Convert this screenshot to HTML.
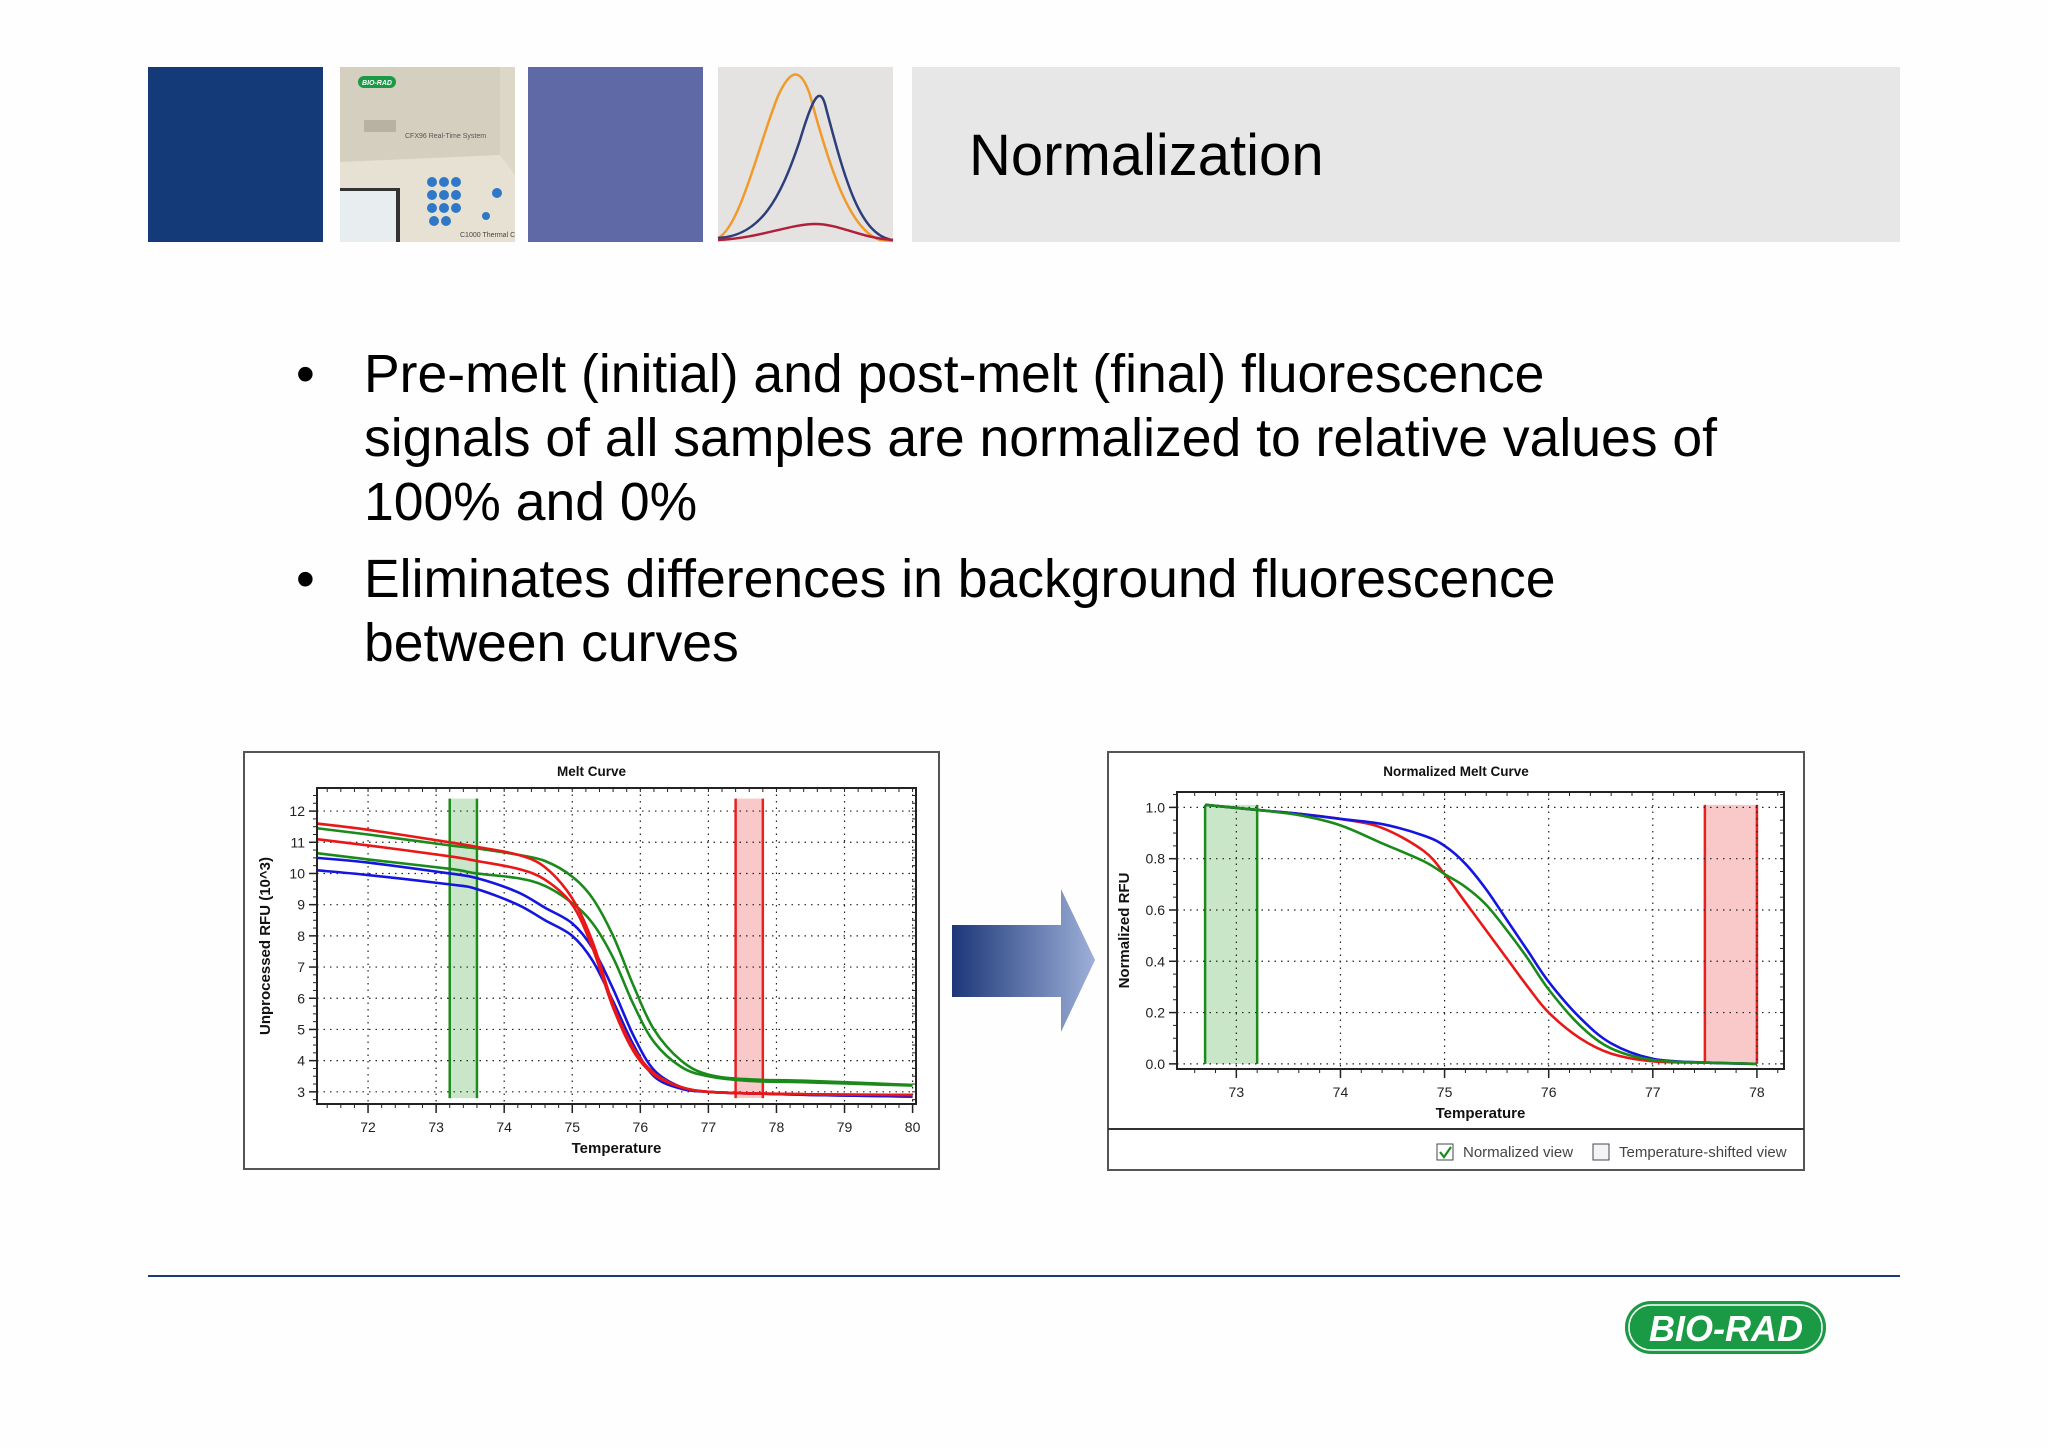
<!DOCTYPE html>
<html><head><meta charset="utf-8"><style>
body{margin:0;background:#fff;}
svg{display:block;font-family:"Liberation Sans",sans-serif;}
</style></head><body>
<svg id="s" width="2048" height="1448" viewBox="0 0 2048 1448">
<rect width="2048" height="1448" fill="#fefefe"/>
<g>
<rect x="148" y="67" width="175" height="175" fill="#143a78"/>
<g>
<rect x="340" y="67" width="175" height="175" fill="#dcd7c6"/>
<rect x="340" y="67" width="160" height="95" fill="#d4cfbe"/>
<polygon points="340,162 500,155 515,175 515,242 340,242" fill="#e6e1d2"/>
<rect x="358" y="76" width="38" height="12" rx="6" fill="#1b9a45"/>
<text x="377" y="85" font-size="7" fill="#fff" text-anchor="middle" font-weight="bold" font-style="italic">BIO-RAD</text>
<rect x="364" y="120" width="32" height="12" fill="#b8b2a2"/>
<text x="405" y="138" font-size="7" fill="#555">CFX96 Real-Time System</text>
<rect x="340" y="188" width="60" height="54" fill="#333"/>
<rect x="340" y="191" width="56" height="51" fill="#e8eef0"/>
<g fill="#2f78c8"><circle cx="432" cy="182" r="5"/><circle cx="444" cy="182" r="5"/><circle cx="456" cy="182" r="5"/><circle cx="432" cy="195" r="5"/><circle cx="444" cy="195" r="5"/><circle cx="456" cy="195" r="5"/><circle cx="432" cy="208" r="5"/><circle cx="444" cy="208" r="5"/><circle cx="456" cy="208" r="5"/><circle cx="434" cy="221" r="5"/><circle cx="446" cy="221" r="5"/><circle cx="497" cy="193" r="5"/><circle cx="486" cy="216" r="4"/></g>
<text x="460" y="237" font-size="7" fill="#444">C1000 Thermal C</text>
</g>
<rect x="528" y="67" width="175" height="175" fill="#5f69a6"/>
<g>
<rect x="718" y="67" width="175" height="175" fill="#e4e3e2"/>
<path d="M718,238 C740,228 760,140 778,96 C790,70 800,65 810,95 C830,170 850,230 880,240 L893,241" fill="none" stroke="#f09a2a" stroke-width="2.5"/>
<path d="M718,238 C760,236 780,200 800,140 C812,100 820,82 826,108 C845,180 860,236 893,240" fill="none" stroke="#2d3f7a" stroke-width="2.5"/>
<path d="M718,240 C760,238 790,224 815,224 C840,224 860,238 893,240" fill="none" stroke="#b0203a" stroke-width="2.5"/>
</g>
<rect x="912" y="67" width="988" height="175" fill="#e8e7e7"/>
<text x="969" y="175" font-size="58" fill="#000">Normalization</text>
</g>
<g font-size="53.5" fill="#000">
<text x="296" y="392">•</text>
<text x="364" y="392">Pre-melt (initial) and post-melt (final) fluorescence</text>
<text x="364" y="456">signals of all samples are normalized to relative values of</text>
<text x="364" y="520">100% and 0%</text>
<text x="296" y="597">•</text>
<text x="364" y="597">Eliminates differences in background fluorescence</text>
<text x="364" y="661">between curves</text>
</g>
<defs><linearGradient id="ag" x1="0" x2="1" y1="0" y2="0"><stop offset="0" stop-color="#1c3678"/><stop offset="1" stop-color="#9eb0d8"/></linearGradient></defs>
<polygon points="952,925 1061,925 1061,889 1095,960 1061,1032 1061,997 952,997" fill="url(#ag)"/>
<g id="c1"></g>
<g id="c2"></g>
<line x1="148" y1="1276" x2="1900" y2="1276" stroke="#1c3a7a" stroke-width="2"/>
<g>
<rect x="1625" y="1301" width="201" height="53" rx="26" fill="#1a9a44"/>
<rect x="1629" y="1305" width="193" height="45" rx="22" fill="none" stroke="#fff" stroke-width="1.5"/>
<text x="1726" y="1341" font-size="36" font-weight="bold" font-style="italic" fill="#fff" text-anchor="middle">BIO-RAD</text>
</g>
</svg>
<script>
// ---- Melt curve data ----
const meltTemps=[71.25,72,73.2,73.6,74.2,74.6,75,75.3,75.6,75.9,76.2,76.6,77,77.6,78.5,80];
const meltRed1=[11.6,11.4,11.0,10.85,10.6,10.2,9.2,7.8,5.8,4.4,3.6,3.15,3.0,2.95,2.92,2.9];
const meltRed2=[11.1,10.9,10.55,10.4,10.15,9.8,9.0,7.6,5.7,4.3,3.55,3.15,3.0,2.95,2.92,2.9];
const meltGreen1=[11.45,11.25,10.9,10.8,10.6,10.4,9.9,9.2,8.0,6.4,5.0,4.0,3.55,3.4,3.35,3.22];
const meltGreen2=[10.65,10.45,10.15,10.0,9.85,9.6,9.05,8.4,7.3,5.8,4.6,3.8,3.5,3.35,3.3,3.2];
const meltBlue1=[10.5,10.35,10.0,9.85,9.4,8.9,8.4,7.6,6.3,4.8,3.7,3.15,3.0,2.95,2.9,2.85];
const meltBlue2=[10.1,9.95,9.65,9.5,9.0,8.5,8.0,7.2,5.9,4.5,3.5,3.1,3.0,2.95,2.9,2.85];
const meltXTicks=[72,73,74,75,76,77,78,79,80];
const meltYTicks=[3,4,5,6,7,8,9,10,11,12];
const meltBands=[[73.2,73.6],[77.4,77.8]];
// ---- Normalized data ----
const normTemps=[72.7,73.2,73.6,74,74.4,74.8,75,75.2,75.4,75.6,75.8,76,76.3,76.6,77,77.5,78];
const normRed=[1.01,0.99,0.975,0.955,0.92,0.83,0.74,0.63,0.52,0.41,0.30,0.2,0.1,0.04,0.01,0.005,0];
const normBlue=[1.01,0.99,0.975,0.955,0.935,0.89,0.85,0.78,0.68,0.56,0.44,0.32,0.18,0.08,0.02,0.005,0];
const normGreen=[1.01,0.99,0.97,0.93,0.86,0.79,0.74,0.69,0.62,0.52,0.41,0.29,0.15,0.06,0.015,0.005,0];
const normXTicks=[73,74,75,76,77,78];
const normYTicks=[0,0.2,0.4,0.6,0.8,1.0];
const normYLabels=["0.0","0.2","0.4","0.6","0.8","1.0"];
const normBands=[[72.7,73.2],[77.5,78.0]];

const NS="http://www.w3.org/2000/svg";
function mk(p,t,a){const e=document.createElementNS(NS,t);for(const k in a)e.setAttribute(k,a[k]);p.appendChild(e);return e;}
function smooth(pts){let d="M"+pts[0][0]+","+pts[0][1];for(let i=0;i<pts.length-1;i++){const p0=pts[i-1]||pts[i],p1=pts[i],p2=pts[i+1],p3=pts[i+2]||p2;
d+=" C"+(p1[0]+(p2[0]-p0[0])/6)+","+(p1[1]+(p2[1]-p0[1])/6)+" "+(p2[0]-(p3[0]-p1[0])/6)+","+(p2[1]-(p3[1]-p1[1])/6)+" "+p2[0]+","+p2[1];}return d;}

function chart(g,o){
 const X=v=>o.L+(v-o.x0)/(o.x1-o.x0)*(o.R-o.L), Y=v=>o.B-(v-o.y0)/(o.y1-o.y0)*(o.B-o.T);
 let e=mk(g,"rect",{x:o.fx,y:o.fy,width:o.fw,height:o.fh,fill:"#fff",stroke:"#555","stroke-width":2});
 
 
 e=mk(g,"text",{x:o.fx+o.fw/2,y:o.fy+24,"font-size":13.5,"font-weight":"bold","text-anchor":"middle",fill:"#111"});e.textContent=o.title;
 
 
 o.bands.forEach((b,i)=>{const c=i==0?["#c9e6c9","#1d8a1d"]:["#f9c8c8","#e82020"];
  e=mk(g,"rect",{x:X(b[0]),y:Y(o.by1),width:X(b[1])-X(b[0]),height:Y(o.by0)-Y(o.by1),fill:c[0]});
  
  
  mk(g,"line",{x1:X(b[0]),x2:X(b[0]),y1:Y(o.by1),y2:Y(o.by0),stroke:c[1],"stroke-width":2.5});
  mk(g,"line",{x1:X(b[1]),x2:X(b[1]),y1:Y(o.by1),y2:Y(o.by0),stroke:c[1],"stroke-width":2.5});
 });
 o.xt.forEach(v=>{mk(g,"line",{x1:X(v),x2:X(v),y1:o.T,y2:o.B,stroke:"#222","stroke-width":1.2,"stroke-dasharray":"1.5,5"});
  mk(g,"line",{x1:X(v),x2:X(v),y1:o.B,y2:o.B+9,stroke:"#222","stroke-width":1.5});
  e=mk(g,"text",{x:X(v),y:o.B+28,"font-size":14,"text-anchor":"middle",fill:"#222"});e.textContent=v;
  
  });
 for(let v=Math.ceil(o.x0*5)/5;v<=o.x1;v+=0.2){mk(g,"line",{x1:X(v),x2:X(v),y1:o.B,y2:o.B+4,stroke:"#222"});mk(g,"line",{x1:X(v),x2:X(v),y1:o.T,y2:o.T+4,stroke:"#222"});}
 o.yt.forEach((v,i)=>{mk(g,"line",{x1:o.L,x2:o.R,y1:Y(v),y2:Y(v),stroke:"#222","stroke-width":1.2,"stroke-dasharray":"1.5,5"});
  mk(g,"line",{x1:o.L-8,x2:o.L,y1:Y(v),y2:Y(v),stroke:"#222","stroke-width":1.5});
  e=mk(g,"text",{x:o.L-12,y:Y(v)+5,"font-size":14,"text-anchor":"end",fill:"#222"});e.textContent=o.yl?o.yl[i]:v;
  
  });
 const ystep=(o.yt[1]-o.yt[0])/4;
 for(let v=o.yt[0]-2*ystep;v<=o.y1;v+=ystep){if(v<o.y0)continue;mk(g,"line",{x1:o.L-4,x2:o.L,y1:Y(v),y2:Y(v),stroke:"#222"});mk(g,"line",{x1:o.R-4,x2:o.R,y1:Y(v),y2:Y(v),stroke:"#222"});}
 o.series.forEach(s=>{e=mk(g,"path",{d:smooth(o.t.map((t,i)=>[X(t),Y(s.v[i])])),fill:"none",stroke:s.c,"stroke-width":2.6});
  
  });
 mk(g,"rect",{x:o.L,y:o.T,width:o.R-o.L,height:o.B-o.T,fill:"none",stroke:"#222","stroke-width":2});
 e=mk(g,"text",{x:(o.L+o.R)/2,y:o.xty,"font-size":15,"font-weight":"bold","text-anchor":"middle",fill:"#111"});e.textContent="Temperature";
 
 
 e=mk(g,"text",{x:0,y:0,"font-size":15,"font-weight":"bold","text-anchor":"middle",fill:"#111",transform:"translate("+o.ytx+","+(o.T+o.B)/2+") rotate(-90)"});e.textContent=o.ytitle;
 
 
}
chart(document.getElementById("c1"),{fx:244,fy:752,fw:695,fh:417,L:317,R:916,T:788,B:1104,x0:71.25,x1:80.05,y0:2.61,y1:12.74,by0:2.8,by1:12.4,
 title:"Melt Curve",xt:meltXTicks,yt:meltYTicks,bands:meltBands,t:meltTemps,xty:1153,ytx:270,ytitle:"Unprocessed RFU (10^3)",
 series:[{v:meltGreen2,c:"#1a8a1a",n:"green-curve-2"},{v:meltGreen1,c:"#1a8a1a",n:"green-curve-1"},{v:meltBlue2,c:"#1515e0",n:"blue-curve-2"},{v:meltBlue1,c:"#1515e0",n:"blue-curve-1"},{v:meltRed2,c:"#e81818",n:"red-curve-2"},{v:meltRed1,c:"#e81818",n:"red-curve-1"}]});
chart(document.getElementById("c2"),{fx:1108,fy:752,fw:696,fh:418,L:1177,R:1784,T:792,B:1069,x0:72.43,x1:78.26,y0:-0.02,y1:1.06,by0:0,by1:1.01,
 title:"Normalized Melt Curve",xt:normXTicks,yt:normYTicks,yl:normYLabels,bands:normBands,t:normTemps,xty:1118,ytx:1129,ytitle:"Normalized RFU",
 series:[{v:normRed,c:"#e81818",n:"red-normalized-curve"},{v:normBlue,c:"#1515e0",n:"blue-normalized-curve"},{v:normGreen,c:"#1a8a1a",n:"green-normalized-curve"}]});
const g2=document.getElementById("c2");
let e=mk(g2,"line",{x1:1108,x2:1804,y1:1129,y2:1129,stroke:"#333","stroke-width":2});
e=mk(g2,"rect",{x:1437,y:1144,width:16,height:16,fill:"#fff",stroke:"#445"});


mk(g2,"path",{d:"M1440,1152 l4,5 l7,-10",fill:"none",stroke:"#1a8a1a","stroke-width":2.2});
e=mk(g2,"text",{x:1463,y:1157,"font-size":15,fill:"#444"});e.textContent="Normalized view";


e=mk(g2,"rect",{x:1593,y:1144,width:16,height:16,fill:"#f4f4f4",stroke:"#445"});


e=mk(g2,"text",{x:1619,y:1157,"font-size":15,fill:"#444"});e.textContent="Temperature-shifted view";


</script>
</body></html>
